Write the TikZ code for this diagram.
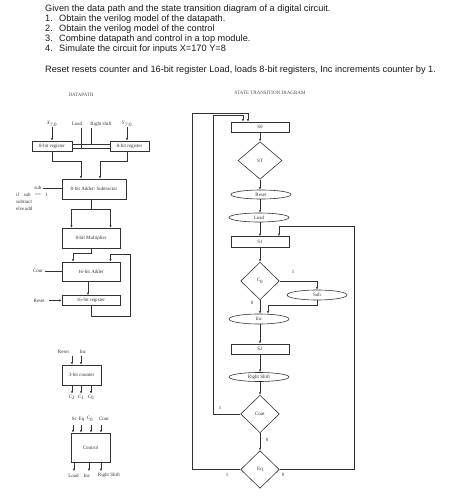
\documentclass[tikz,border=0pt]{standalone}
\usepackage{fontspec}
\setmainfont{Liberation Serif}
\newfontfamily\hdrfont{Liberation Sans}
\usetikzlibrary{shapes.geometric,arrows.meta}
\begin{document}
\begin{tikzpicture}[x=1pt,y=-1pt,
  line/.style={draw=black!80, line width=0.6pt},
  arr/.style={line, -{Latex[length=2.6pt,width=2.2pt]}},
  dfont/.style={font=\fontsize{5}{6}\selectfont, text=black!80},
  blk/.style={draw=black!80, line width=0.6pt, rectangle, inner sep=0pt, dfont},
  ell/.style={draw=black!80, line width=0.6pt, ellipse, inner sep=0pt, dfont},
  dia/.style={draw=black!80, line width=0.6pt, diamond, inner sep=0pt, dfont},
  lbl/.style={inner sep=0pt, dfont},
  hdr/.style={inner sep=0pt, anchor=mid west, font=\hdrfont\fontsize{9.2}{10}\selectfont, text=black!90},
  ttl/.style={inner sep=0pt, font=\fontsize{5}{6}\selectfont, text=black!70},
]
\useasboundingbox (0,0) rectangle (474,500);

% header
\node[hdr] (h0) at (45,9) {Given the data path and the state transition diagram of a digital circuit.};
\node[hdr] (n1) at (45,19) {1.};
\node[hdr] (h1) at (59,19) {Obtain the verilog model of the datapath.};
\node[hdr] (n2) at (45,29) {2.};
\node[hdr] (h2) at (59,29) {Obtain the verilog model of the control};
\node[hdr] (n3) at (45,39.5) {3.};
\node[hdr] (h3) at (59,39.5) {Combine datapath and control in a top module.};
\node[hdr] (n4) at (45,49.5) {4.};
\node[hdr] (h4) at (59,49.5) {Simulate the circuit for inputs X=170 Y=8};
\node[hdr] (h5) at (45,70) {Reset resets counter and 16-bit register Load, loads 8-bit registers, Inc increments counter by 1.};

\node[ttl] (t1) at (81,94.5) {DATAPATH};
\node[ttl] (t2) at (270,93) {STATE TRANSITION DIAGRAM};

% ---------------- datapath ----------------
\node[blk, minimum width=40pt, minimum height=10pt] (regL) at (52,146) {8-bit register};
\node[blk, minimum width=39pt, minimum height=10pt] (regR) at (129.5,146) {8-bit register};
\node[lbl] (X) at (52,124) {\textit{X}\textsubscript{7:0}};
\node[lbl] (Ld) at (77,124) {Load};
\node[lbl] (RS) at (101,124) {Right shift};
\node[lbl] (Y) at (127,124) {\textit{Y}\textsubscript{7:0}};
\coordinate (ldTop) at (81,128);
\coordinate (rsTop) at (91,128);
\coordinate (busU) at ([yshift=2pt]regL.east);
\coordinate (busL) at ([yshift=-2pt]regL.east);
\draw[line] (busU) -- (busU -| regR.west);
\draw[line] (busL) -- (busL -| regR.west);
\draw[line] (ldTop) -- (ldTop |- busL);
\draw[line] (rsTop) -- (rsTop |- busU);
\draw[arr] (X.south) -- (X.south |- regL.north);
\draw[arr] (Y.south) -- (Y.south |- regR.north);

\node[blk, minimum width=64pt, minimum height=20pt] (addsub) at (94,189) {8-bit Adder/ Subtractor};
\draw[arr] (regL.south) -- ++(0,10) -| ([xshift=-13pt]addsub.north);
\draw[arr] ([xshift=-2.5pt]regR.south) -- ++(0,10) -| ([xshift=6pt]addsub.north);

\node[lbl, anchor=east] (sublbl) at (41.5,188) {sub};
\draw[line] ([xshift=1.5pt]sublbl.east) -- (sublbl.east -| addsub.west);
\node[lbl, anchor=west] (if1) at (16,194.5) {if\hspace{4.5pt}sub\hspace{4.5pt}==\hspace{4.5pt}1};
\node[lbl, anchor=west] (if2) at (16,202) {subtract};
\node[lbl, anchor=west] (if3) at (16,209) {else add};

\node[blk, minimum width=58pt, minimum height=20pt] (mult) at (91,238) {8-bit Multiplier};
\draw[line] ([xshift=-3pt]addsub.south) -- ++(0,10) coordinate (split);
\draw[arr] (split) -| ([xshift=-19.5pt]mult.north);
\draw[arr] (split) -| ([xshift=19.5pt]mult.north);

\node[blk, minimum width=58pt, minimum height=19pt] (add16) at (91,271.5) {16-bit Adder};
\draw[arr] (mult.south) -- ++(0,5) -| ([xshift=-18pt]add16.north);
\node[lbl, anchor=east] (cout) at (43,271) {Cout};
\draw[line] ([xshift=2pt]cout.east) -- (cout.east -| add16.west);

\node[blk, minimum width=58pt, minimum height=10pt] (reg16) at (91,300.5) {16-bit register};
\draw[arr] ([xshift=-3pt]add16.south) -- ([xshift=-3pt]reg16.north);
\node[lbl, anchor=east] (rst) at (45,300.5) {Reset};
\draw[arr] ([xshift=4pt]rst.east) -- (reg16.west);
\draw[arr] (reg16.south) -- ++(0,10.5) -- ++(39,0) -- ++(0,-62) -| ([xshift=19.5pt]add16.north);

% counter
\node[blk, minimum width=39pt, minimum height=20pt] (cnt) at (81.5,375) {3-bit counter};
\node[lbl] (cRst) at (63.5,352) {Reset};
\node[lbl] (cInc) at (83,352) {Inc};
\draw[arr] ([shift={(-9.5pt,9pt)}]cnt.north) -- ([xshift=-9.5pt]cnt.north);
\draw[arr] ([shift={(-0.5pt,9pt)}]cnt.north) -- ([xshift=-0.5pt]cnt.north);
\node[lbl] (c2) at (72,397.5) {C\textsubscript{2}};
\node[lbl] (c1) at (81,397.5) {C\textsubscript{1}};
\node[lbl] (c0l) at (91,397.5) {C\textsubscript{0}};
\draw[arr, shorten >=1pt] ([xshift=-9.5pt]cnt.south) -- (c2.north);
\draw[arr, shorten >=1pt] ([xshift=-0.5pt]cnt.south) -- (c1.north);
\draw[arr, shorten >=1pt] ([xshift=9.5pt]cnt.south) -- (c0l.north);

% control
\node[blk, minimum width=39pt, minimum height=29pt] (ctrl) at (90.5,447.5) {Control};
\node[lbl] (iSt) at (74,419) {St};
\node[lbl] (iEq) at (81.5,419) {Eq};
\node[lbl] (iC0) at (90,419) {C\textsubscript{0}};
\node[lbl] (iCout) at (104,419) {Cout};
\draw[arr] ([shift={(-17.5pt,8pt)}]ctrl.north) -- ([xshift=-17.5pt]ctrl.north);
\draw[arr] ([shift={(-9.5pt,8pt)}]ctrl.north) -- ([xshift=-9.5pt]ctrl.north);
\draw[arr] ([shift={(0.5pt,8pt)}]ctrl.north) -- ([xshift=0.5pt]ctrl.north);
\draw[arr] ([shift={(10.5pt,8pt)}]ctrl.north) -- ([xshift=10.5pt]ctrl.north);
\draw[arr] ([xshift=-16.5pt]ctrl.south) -- ([shift={(-16.5pt,-9pt)}]ctrl.south);
\draw[arr] ([xshift=-1.5pt]ctrl.south) -- ([shift={(-1.5pt,-9pt)}]ctrl.south);
\draw[arr] ([xshift=10.5pt]ctrl.south) -- ([shift={(10.5pt,-9pt)}]ctrl.south);
\node[lbl] (oLd) at (73.5,475.5) {Load};
\node[lbl] (oInc) at (87,475.5) {Inc};
\node[lbl] (oRS) at (109,475.5) {Right Shift};

% ---------------- state diagram ----------------
\node[blk, minimum width=58pt, minimum height=10pt] (s0) at (260,127) {S0};
\node[dia, minimum width=44pt, minimum height=37.5pt] (st) at (260,160.5) {ST};
\node[ell, minimum width=60pt, minimum height=9pt] (reset) at (261,194.5) {Reset};
\node[ell, minimum width=60pt, minimum height=9pt] (load) at (259,217.5) {Load};
\node[blk, minimum width=58pt, minimum height=11pt] (s1) at (260,242) {S1};
\node[dia, minimum width=38.6pt, minimum height=37.7pt] (c0) at (260,281) {C\textsubscript{0}};
\node[ell, minimum width=60pt, minimum height=10pt] (sub) at (317,295) {Sub};
\node[ell, minimum width=60pt, minimum height=10pt] (inc) at (259,319) {Inc};
\node[blk, minimum width=58pt, minimum height=10pt] (s2) at (260,349) {S2};
\node[ell, minimum width=60pt, minimum height=9pt] (rsh) at (259,377) {Right Shift};
\node[dia, minimum width=38.6pt, minimum height=37.7pt] (cout2) at (260,414) {Cout};
\node[dia, minimum width=38.6pt, minimum height=37.5pt] (eq) at (260,469.5) {Eq};

\draw[arr] (s0.south) -- (st.north);
\draw[arr] (st.south) -- (st.south |- reset.north);
\draw[arr] (reset.south -| st.south) -- (st.south |- load.north);
\draw[arr] (load.south -| s1.north) -- (s1.north);
\draw[arr] (s1.south) -- (c0.north);
\draw[arr] (c0.east) -| (sub.north);
\draw[arr] (sub.south) -- ++(0,5) -| ([xshift=9pt]inc.north);
\draw[arr] (c0.south) -- (c0.south |- inc.north);
\draw[arr] (inc.south -| s2.north) -- (s2.north);
\draw[arr] (s2.south) -- (s2.south |- rsh.north);
\draw[arr] (rsh.south -| cout2.north) -- (cout2.north);
\draw[arr] (cout2.south) -- (eq.north);
\coordinate (cl) at (213,115);
\coordinate (ol) at (192,113);
\coordinate (orr) at (354,226);
\draw[arr] (cout2.west) -| (cl) -| ([xshift=-17pt]s0.north);
\draw[arr] (eq.west) -| (ol) -| ([xshift=-12pt]s0.north);
\draw[arr] (eq.east) -| (orr) -| ([xshift=19pt]s1.north);

\node[lbl] (l1) at (293,272) {1};
\node[lbl] (l2) at (252,303) {0};
\node[lbl] (l3) at (220,408) {1};
\node[lbl] (l4) at (267,440) {0};
\node[lbl] (l5) at (227,475) {1};
\node[lbl] (l6) at (283,475) {0};
\end{tikzpicture}
\end{document}
